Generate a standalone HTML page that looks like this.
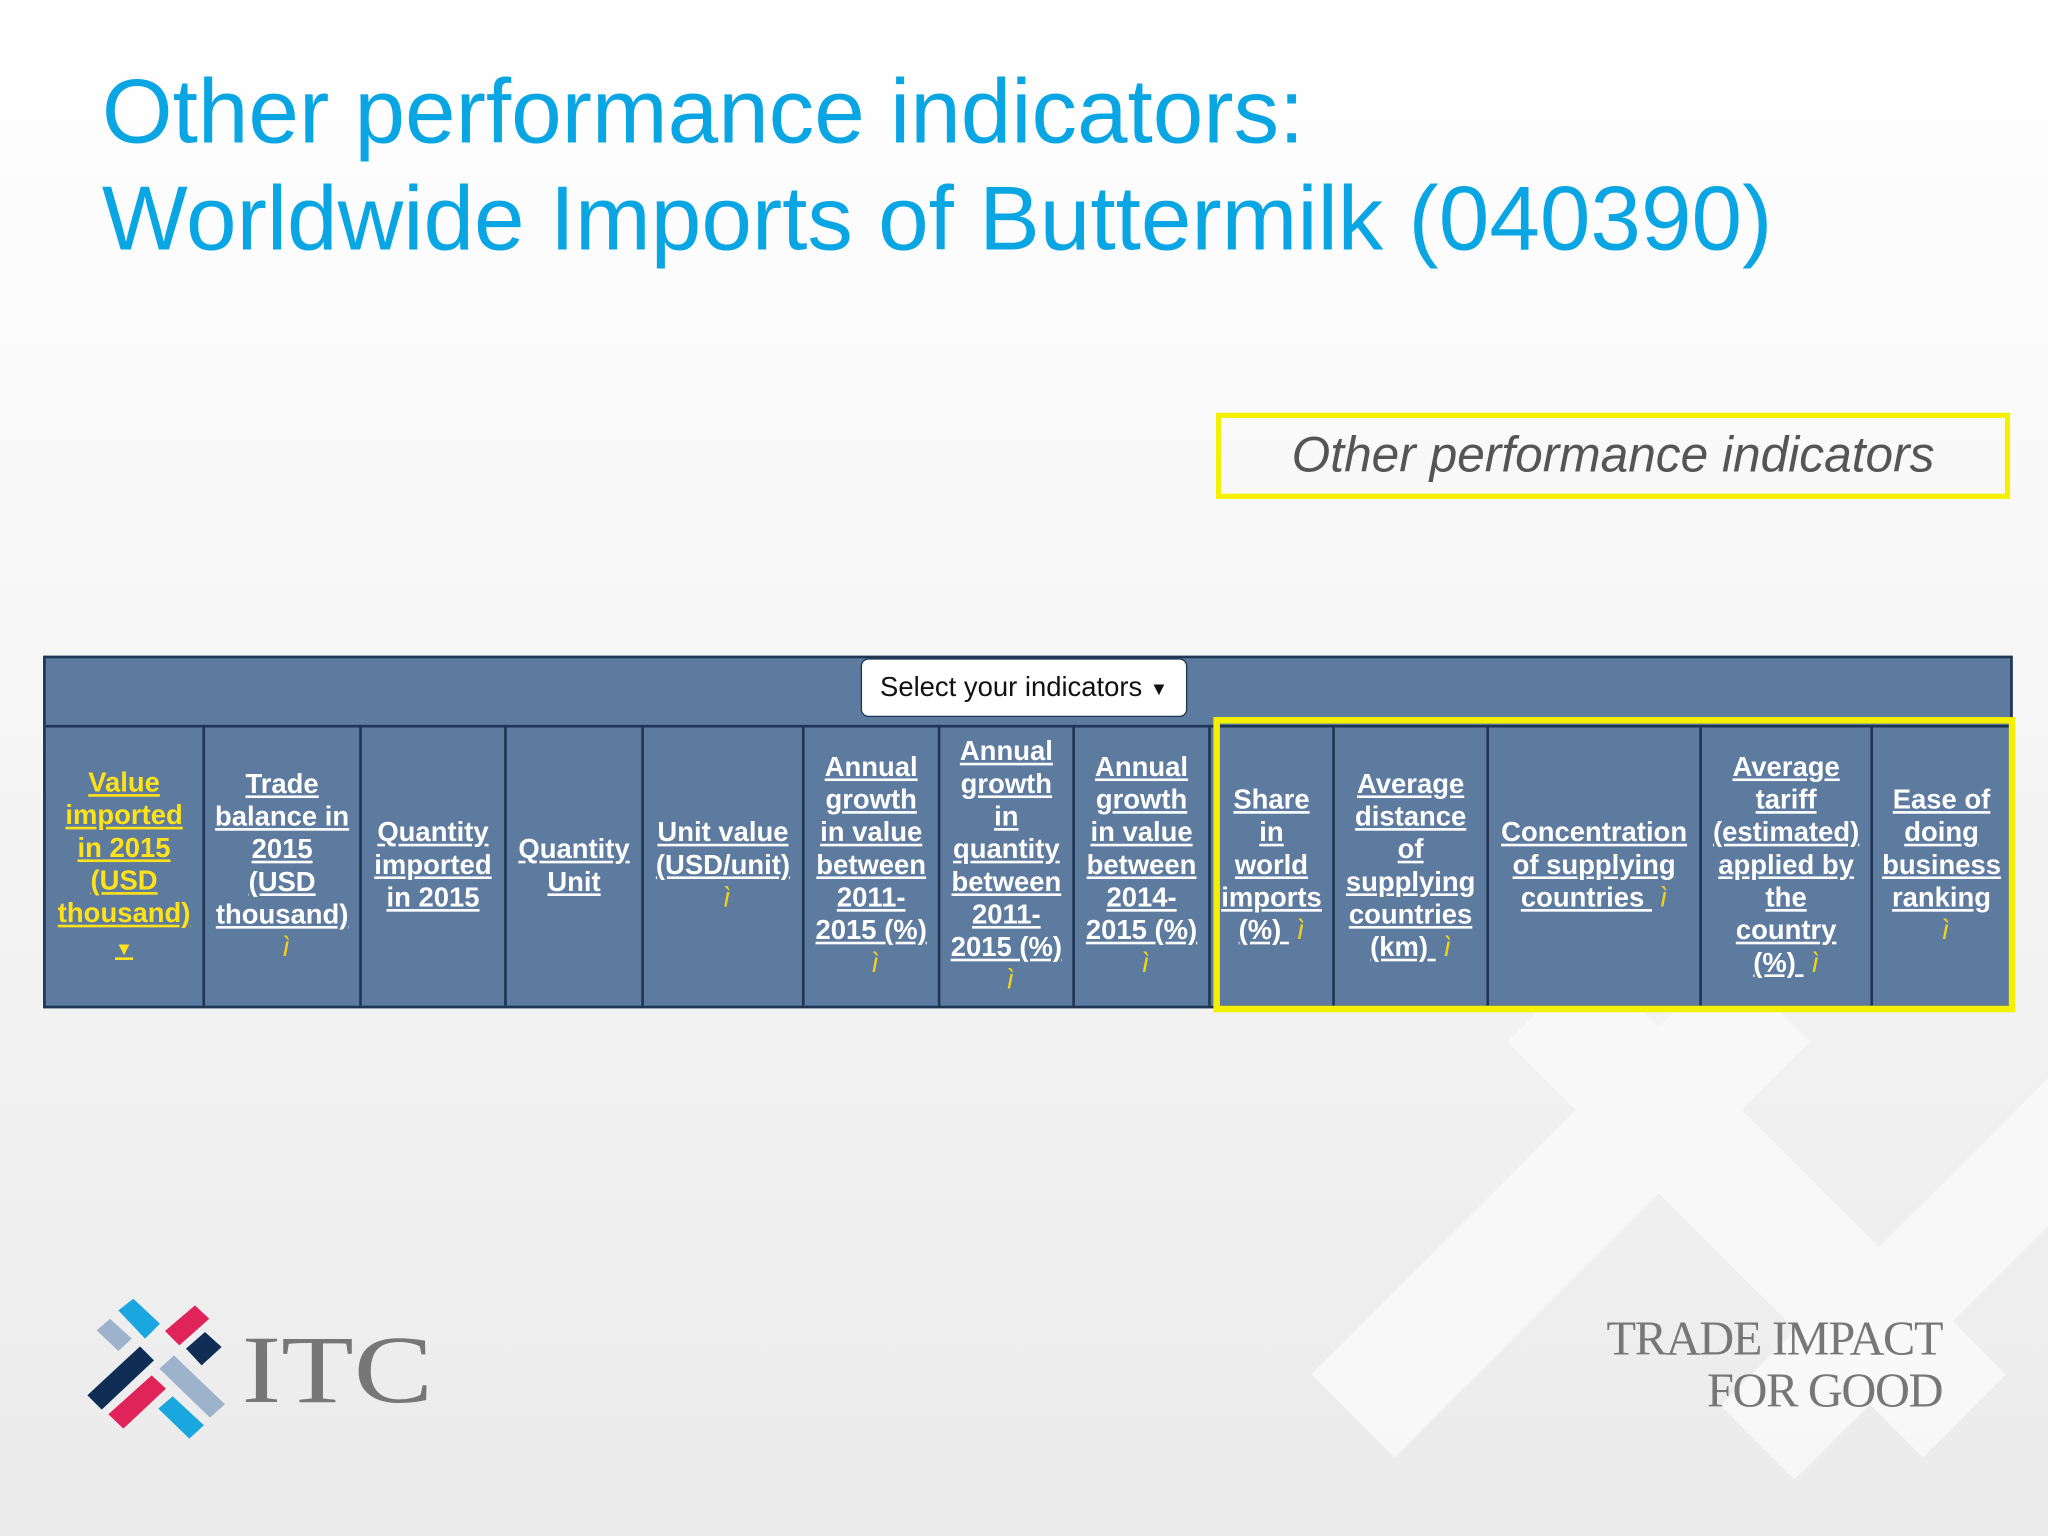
<!DOCTYPE html>
<html><head><meta charset="utf-8"><style>
html,body{margin:0;padding:0;width:2048px;height:1536px;overflow:hidden}
#s{position:absolute;left:0;top:0;width:1568px;height:1176px;transform:scale(1.306122);transform-origin:0 0;
background:linear-gradient(180deg,#ffffff 0%,#f7f7f7 40%,#ebebeb 100%);overflow:hidden;font-family:"Liberation Sans",sans-serif}
.st{position:absolute;background:#f9f9f9;transform:rotate(45deg);opacity:.85}
h1{position:absolute;left:78px;top:44px;margin:0;font-weight:normal;color:#0aa6e3;font-size:69.6px;line-height:82px;white-space:nowrap}
#ybox{position:absolute;left:931px;top:316px;width:600px;height:58px;border:4px solid #f5f000;display:flex;align-items:center;justify-content:center;font-style:italic;color:#555;font-size:38px}
#tbl{position:absolute;left:33px;top:502px;width:1508px;height:270px;background:#5d7a9f;border:2px solid #1f3554;box-sizing:border-box}
#top{position:absolute;left:0;top:0;right:0;height:51px;border-bottom:2px solid #1f3554}
#sel{position:absolute;left:624px;top:0;width:250px;height:45px;background:#fff;border:1px solid #1f3554;border-radius:6px;box-sizing:border-box;display:flex;align-items:center;justify-content:center;font-size:21px;color:#111;font-family:"Liberation Sans Narrow","Liberation Sans",sans-serif}
.col{position:absolute;top:51px;bottom:0;border-right:2px solid #1f3554;display:flex;align-items:center;justify-content:center;text-align:center;color:#fff;font-family:"Liberation Sans Narrow","Liberation Sans",sans-serif;font-weight:bold;font-size:21px;line-height:25px;text-decoration:underline;box-sizing:border-box}
.col.y{color:#ffe21a}
.i{color:#f2d21a;font-style:italic;font-weight:normal;text-decoration:none;display:inline-block;margin-left:6px}
#hl{position:absolute;left:929px;top:549px;width:614px;height:226px;border:5px solid #f5f000;box-sizing:border-box}
.tr{position:absolute;right:81px;color:#777;font-family:"Liberation Serif",serif;font-size:37px;letter-spacing:-1px;text-align:right;line-height:40px}
</style></head><body>
<div id="s">
<div class="st" style="left:1150px;top:700px;width:90px;height:450px"></div>
<div class="st" style="left:1300px;top:700px;width:90px;height:450px;transform:rotate(-45deg)"></div>
<div class="st" style="left:1440px;top:780px;width:80px;height:380px"></div>
<h1>Other performance indicators:<br>Worldwide Imports of Buttermilk (040390)</h1>
<div id="ybox">Other performance indicators</div>
<div id="tbl">
<div id="top"><div id="sel">Select your indicators&nbsp;<span style="font-size:14px">▼</span></div></div>
<div class="col y" style="left:0;width:122px"><div>Value<br>imported<br>in 2015<br>(USD<br>thousand)<br><span style="text-decoration:none;font-size:14px">▼</span></div></div>
<div class="col" style="left:122px;width:120px"><div>Trade<br>balance in<br>2015<br>(USD<br>thousand)<br><span class="i">ì</span></div></div>
<div class="col" style="left:242px;width:111px"><div>Quantity<br>imported<br>in 2015</div></div>
<div class="col" style="left:353px;width:105px"><div>Quantity<br>Unit</div></div>
<div class="col" style="left:458px;width:123px"><div>Unit value<br>(USD/unit)<br><span class="i">ì</span></div></div>
<div class="col" style="left:581px;width:104px"><div>Annual<br>growth<br>in value<br>between<br>2011-<br>2015 (%)<br><span class="i">ì</span></div></div>
<div class="col" style="left:685px;width:103px"><div>Annual<br>growth<br>in<br>quantity<br>between<br>2011-<br>2015 (%)<br><span class="i">ì</span></div></div>
<div class="col" style="left:788px;width:104px"><div>Annual<br>growth<br>in value<br>between<br>2014-<br>2015 (%)<br><span class="i">ì</span></div></div>
<div class="col" style="left:892px;width:95px"><div>Share<br>in<br>world<br>imports<br>(%) <span class="i">ì</span></div></div>
<div class="col" style="left:987px;width:118px"><div>Average<br>distance<br>of<br>supplying<br>countries<br>(km) <span class="i">ì</span></div></div>
<div class="col" style="left:1105px;width:163px"><div>Concentration<br>of supplying<br>countries <span class="i">ì</span></div></div>
<div class="col" style="left:1268px;width:131px"><div>Average<br>tariff<br>(estimated)<br>applied by<br>the<br>country<br>(%) <span class="i">ì</span></div></div>
<div class="col" style="left:1399px;width:105px;border-right:none"><div>Ease of<br>doing<br>business<br>ranking<br><span class="i">ì</span></div></div>
</div>
<div id="hl"></div>
<svg style="position:absolute;left:46px;top:965px" width="306" height="153" viewBox="0 0 1200 600">
<polygon points="175,150 220,115 300,190 255,235" fill="#1aa7e0"/>
<polygon points="110,210 150,175 215,235 175,272" fill="#9db3cb"/>
<polygon points="315,212 405,135 448,175 358,255" fill="#e0245a"/>
<polygon points="378,265 435,215 485,260 425,315" fill="#102e55"/>
<polygon points="82,405 240,258 282,300 125,448" fill="#102e55"/>
<polygon points="145,462 275,345 318,385 190,505" fill="#e0245a"/>
<polygon points="298,325 342,285 495,432 450,472" fill="#9db3cb"/>
<polygon points="295,445 338,408 432,495 388,535" fill="#1aa7e0"/>
<text x="545" y="425" font-family="Liberation Serif, serif" font-size="290" fill="#777" textLength="575" lengthAdjust="spacingAndGlyphs">ITC</text>
</svg>
<div class="tr" style="top:1006px">TRADE IMPACT</div>
<div class="tr" style="top:1046px">FOR GOOD</div>
</div>
</body></html>
